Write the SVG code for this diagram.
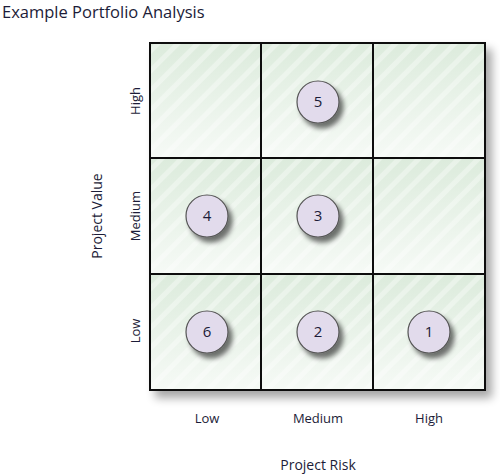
<svg xmlns="http://www.w3.org/2000/svg" width="500" height="476" viewBox="0 0 500 476">
<style>
text{font-family:"Open Sans","Liberation Sans",sans-serif;fill:#1c1c38}
.lbl{font-size:13px;text-anchor:middle}
.cell{fill:url(#cg)}
.str{fill:url(#st)}
.bd{fill:none;stroke:#111;stroke-width:2}
.dot{fill:#e2dbec;stroke:#555;stroke-width:1.2;filter:url(#ds)}
.num{font-size:15px;text-anchor:middle}
</style>
<defs>
<linearGradient id="cg" x1="0" y1="0" x2="0" y2="1">
<stop offset="0" stop-color="#dcebdc"/>
<stop offset="1" stop-color="#f6faf6"/>
</linearGradient>
<pattern id="st" width="14" height="14" patternUnits="userSpaceOnUse" patternTransform="rotate(-45)">
<rect width="14" height="5" fill="#ffffff" fill-opacity="0.35"/>
</pattern>
<filter id="ds" x="-50%" y="-50%" width="200%" height="200%">
<feGaussianBlur in="SourceAlpha" stdDeviation="2.5"/>
<feOffset dx="4" dy="5" result="b"/>
<feComponentTransfer><feFuncA type="linear" slope="0.55"/></feComponentTransfer>
<feMerge><feMergeNode/><feMergeNode in="SourceGraphic"/></feMerge>
</filter>
<filter id="gs" x="-10%" y="-10%" width="125%" height="125%">
<feGaussianBlur in="SourceAlpha" stdDeviation="5"/>
<feOffset dx="6" dy="7"/>
<feComponentTransfer><feFuncA type="linear" slope="0.35"/></feComponentTransfer>
<feMerge><feMergeNode/><feMergeNode in="SourceGraphic"/></feMerge>
</filter>
</defs>
<rect width="500" height="476" fill="#ffffff"/>
<text x="2" y="18" style="font-size:16.5px">Example Portfolio Analysis</text>
<g id="grid" filter="url(#gs)">
<rect x="150" y="43" width="335" height="347" fill="#fff"/>
<g id="c11"><rect class="cell" x="150" y="43" width="111" height="115"/><rect class="str" x="150" y="43" width="111" height="115"/><rect class="bd" x="150" y="43" width="111" height="115"/></g>
<g id="c12"><rect class="cell" x="261" y="43" width="112" height="115"/><rect class="str" x="261" y="43" width="112" height="115"/><rect class="bd" x="261" y="43" width="112" height="115"/></g>
<g id="c13"><rect class="cell" x="373" y="43" width="112" height="115"/><rect class="str" x="373" y="43" width="112" height="115"/><rect class="bd" x="373" y="43" width="112" height="115"/></g>
<g id="c21"><rect class="cell" x="150" y="158" width="111" height="116"/><rect class="str" x="150" y="158" width="111" height="116"/><rect class="bd" x="150" y="158" width="111" height="116"/></g>
<g id="c22"><rect class="cell" x="261" y="158" width="112" height="116"/><rect class="str" x="261" y="158" width="112" height="116"/><rect class="bd" x="261" y="158" width="112" height="116"/></g>
<g id="c23"><rect class="cell" x="373" y="158" width="112" height="116"/><rect class="str" x="373" y="158" width="112" height="116"/><rect class="bd" x="373" y="158" width="112" height="116"/></g>
<g id="c31"><rect class="cell" x="150" y="274" width="111" height="116"/><rect class="str" x="150" y="274" width="111" height="116"/><rect class="bd" x="150" y="274" width="111" height="116"/></g>
<g id="c32"><rect class="cell" x="261" y="274" width="112" height="116"/><rect class="str" x="261" y="274" width="112" height="116"/><rect class="bd" x="261" y="274" width="112" height="116"/></g>
<g id="c33"><rect class="cell" x="373" y="274" width="112" height="116"/><rect class="str" x="373" y="274" width="112" height="116"/><rect class="bd" x="373" y="274" width="112" height="116"/></g>
</g>
<g id="p5"><circle class="dot" cx="318" cy="102" r="21"/><text class="num" x="318" y="107">5</text></g>
<g id="p4"><circle class="dot" cx="207" cy="216" r="21"/><text class="num" x="207" y="221">4</text></g>
<g id="p3"><circle class="dot" cx="318" cy="216" r="21"/><text class="num" x="318" y="221">3</text></g>
<g id="p6"><circle class="dot" cx="207" cy="332" r="21"/><text class="num" x="207" y="337">6</text></g>
<g id="p2"><circle class="dot" cx="318" cy="332" r="21"/><text class="num" x="318" y="337">2</text></g>
<g id="p1"><circle class="dot" cx="429" cy="332" r="21"/><text class="num" x="429" y="337">1</text></g>
<g id="yaxis">
<text class="lbl" transform="translate(140 101) rotate(-90)">High</text>
<text class="lbl" transform="translate(140 216) rotate(-90)">Medium</text>
<text class="lbl" transform="translate(140 331) rotate(-90)">Low</text>
<text class="lbl" style="font-size:14px" transform="translate(102 216) rotate(-90)">Project Value</text>
</g>
<g id="xaxis">
<text class="lbl" x="207" y="423">Low</text>
<text class="lbl" x="318" y="423">Medium</text>
<text class="lbl" x="429" y="423">High</text>
<text class="lbl" style="font-size:14px" x="318" y="470">Project Risk</text>
</g>
</svg>
